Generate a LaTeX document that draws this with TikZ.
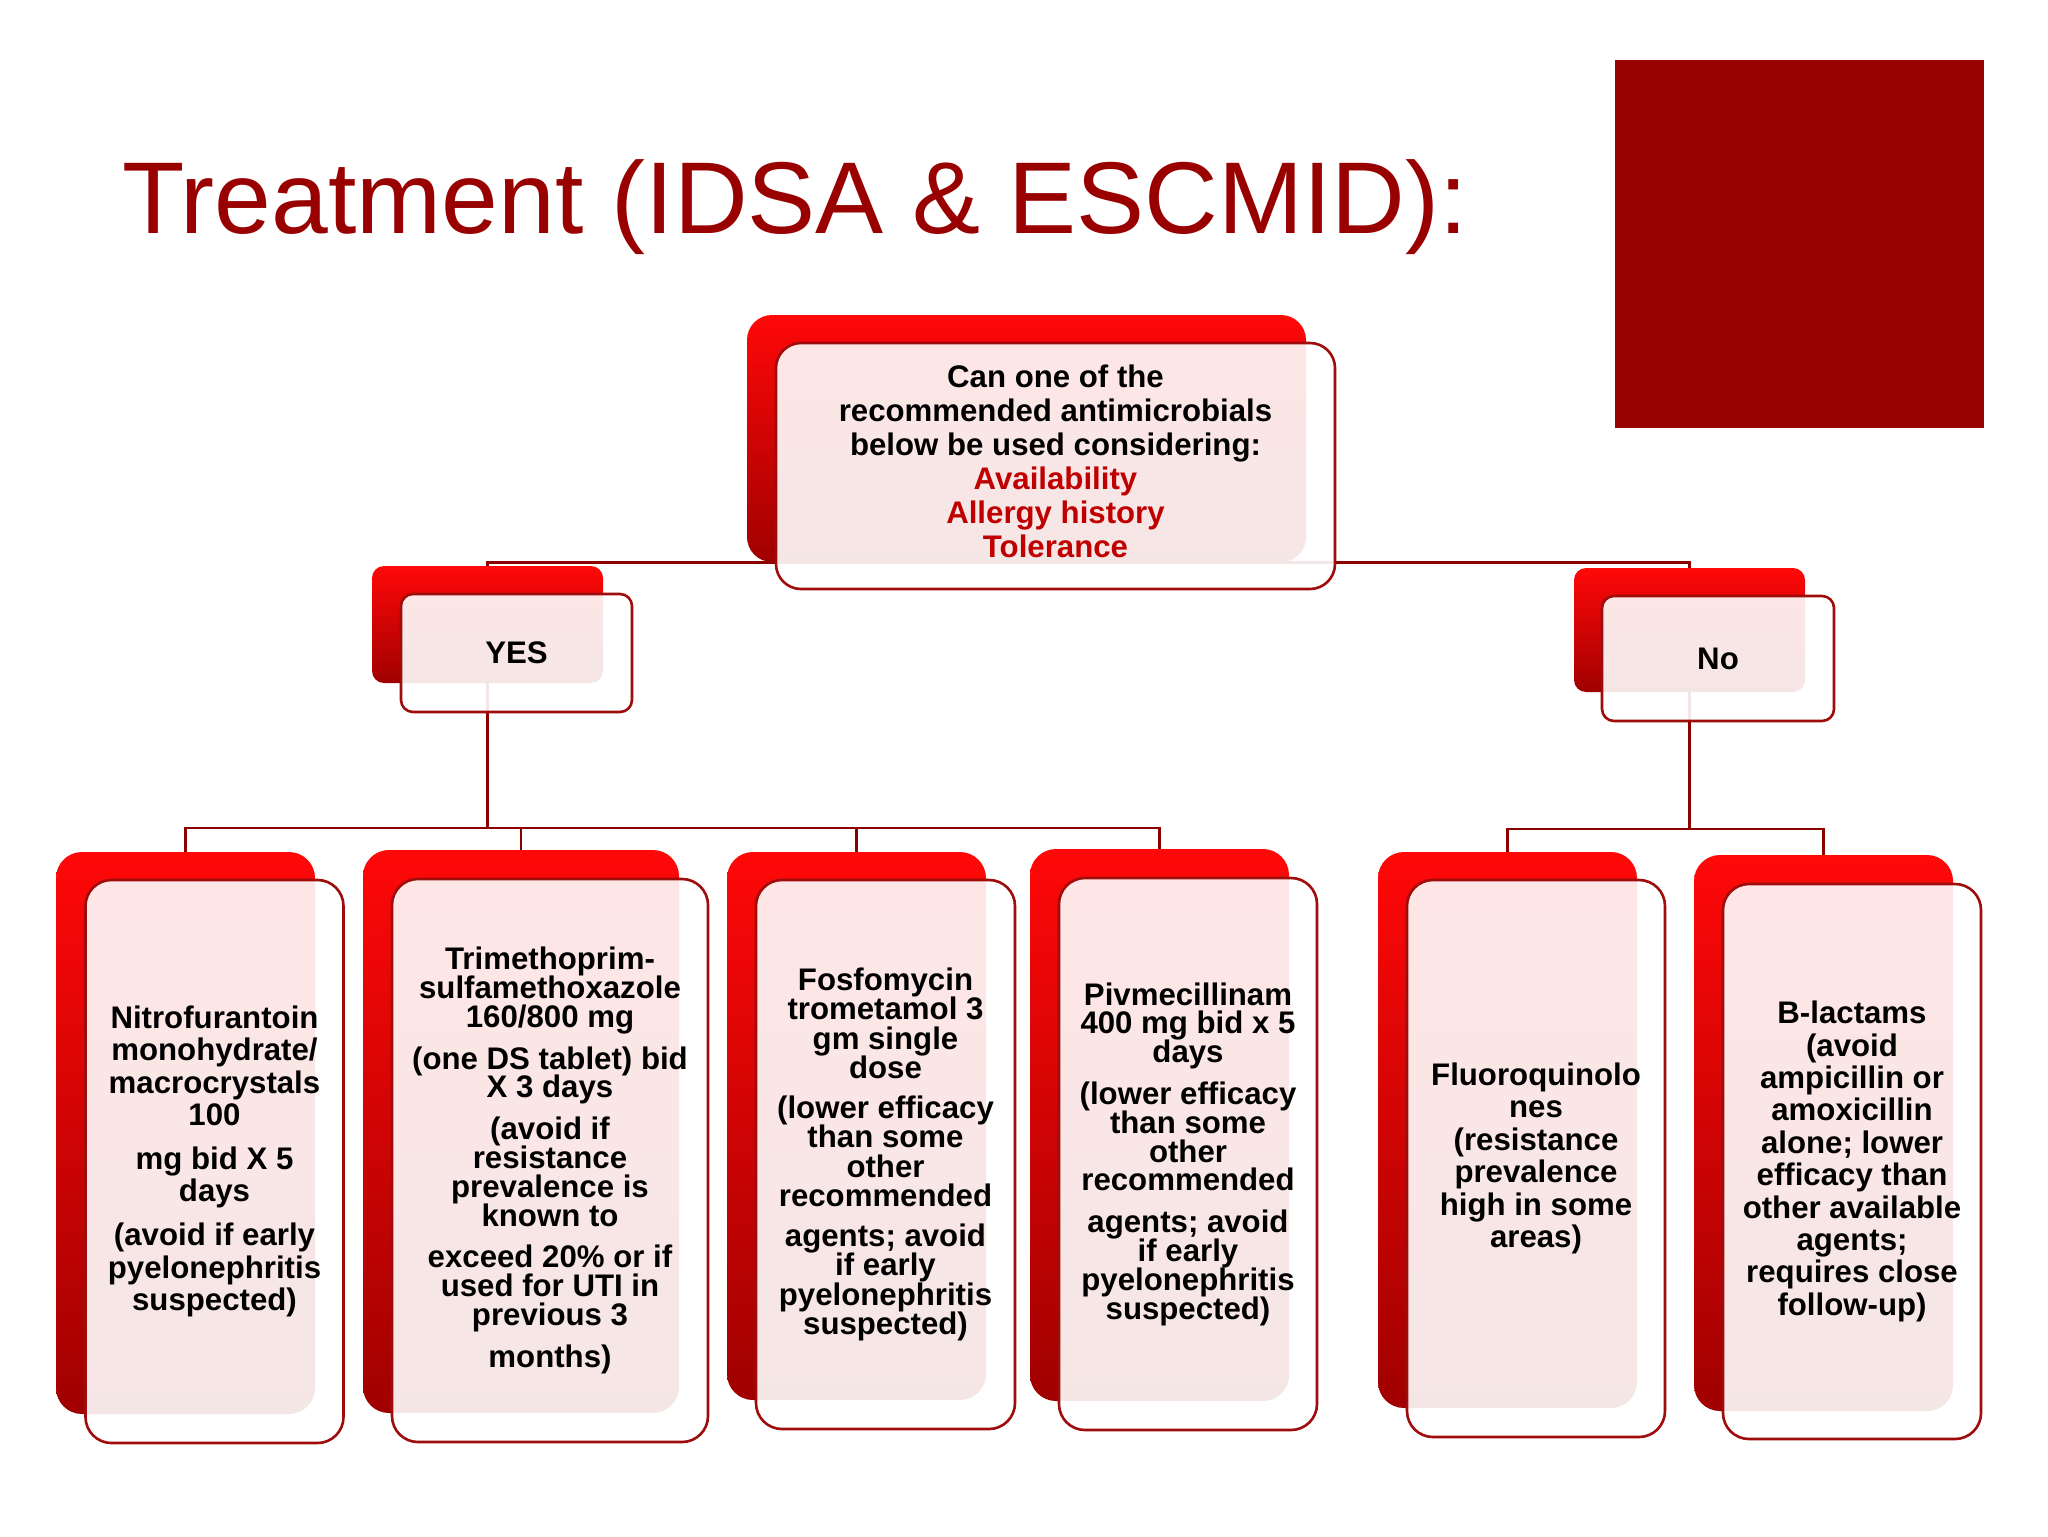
\documentclass[tikz,border=0pt]{standalone}
\usepackage{fontspec}
\setmainfont{Liberation Sans}
\usetikzlibrary{calc}
\definecolor{titlered}{RGB}{153,0,0}
\definecolor{sqred}{RGB}{153,0,0}
\definecolor{boxline}{RGB}{158,12,12}
\definecolor{conline}{RGB}{140,0,0}
\definecolor{hired}{RGB}{192,0,0}
\definecolor{backtop}{RGB}{255,8,8}
\definecolor{backmid}{RGB}{228,0,0}
\definecolor{backbot}{RGB}{160,0,0}
\newcommand\tightlines{\lineskiplimit=-100pt\relax}
\begin{document}
\begin{tikzpicture}[x=0.5pt,y=-0.5pt,
  backbox/.style={rectangle, draw=none, inner sep=0pt,
    top color=backtop, middle color=backmid, bottom color=backbot},
  frontbox/.style={rectangle, draw=boxline, line width=1.3pt, fill=white,
    fill opacity=0.9, text opacity=1, inner sep=0pt, align=center, text=black},
  boxtext/.style={inner sep=0pt, align=center, text=black},
  conn/.style={draw=conline, line width=1.4pt},
  boxfont/.style={font={\bfseries\fontsize{15.6}{#1}\selectfont\tightlines}}
]
\useasboundingbox (0,0) rectangle (2048,1536);
\fill[white] (0,0) rectangle (2048,1536);

% title and red square
\node[anchor=base west, inner sep=0pt, text=titlered,
  font=\fontsize{51}{60}\selectfont] (title) at (122,233) {Treatment (IDSA \& ESCMID):};
\fill[sqred] (1615,60) rectangle (1984,428);

% back shapes
\node[backbox, rounded corners=12.5pt, minimum width=279.5pt, minimum height=123.5pt] (mainb) at (1026.5,438.5) {};
\node[backbox, rounded corners=6pt, minimum width=115.5pt, minimum height=58.5pt] (yesb) at (487.5,624.5) {};
\node[backbox, rounded corners=6pt, minimum width=115.5pt, minimum height=62pt] (nob) at (1689.5,630) {};
\node[backbox, rounded corners=13pt, minimum width=129.5pt, minimum height=281pt] (c1b) at (185.5,1133) {};
\node[backbox, rounded corners=13pt, minimum width=158pt, minimum height=281.5pt] (c2b) at (521,1131.5) {};
\node[backbox, rounded corners=13pt, minimum width=129.5pt, minimum height=274pt] (c3b) at (856.5,1126) {};
\node[backbox, rounded corners=13pt, minimum width=129.5pt, minimum height=276pt] (c4b) at (1159.5,1125) {};
\node[backbox, rounded corners=13pt, minimum width=129.5pt, minimum height=278pt] (c5b) at (1507.5,1130) {};
\node[backbox, rounded corners=13pt, minimum width=129.5pt, minimum height=278pt] (c6b) at (1823.5,1133) {};

% connectors
\coordinate (midL) at (0,828);
\coordinate (midR) at (0,829);
\draw[conn] (mainb.south) -| (yesb.north);
\draw[conn] (mainb.south) -| (nob.north);
\draw[conn] (yesb.south) |- (midL -| c1b.north) -- (c1b.north);
\draw[conn] (yesb.south) |- (midL -| c2b.north) -- (c2b.north);
\draw[conn] (yesb.south) |- (midL -| c3b.north) -- (c3b.north);
\draw[conn] (yesb.south) |- (midL -| c4b.north) -- (c4b.north);
\draw[conn] (nob.south) |- (midR -| c5b.north) -- (c5b.north);
\draw[conn] (nob.south) |- (midR -| c6b.north) -- (c6b.north);

% front boxes
\node[frontbox, rounded corners=12.5pt, minimum width=279.5pt, minimum height=123pt] (mainf) at (1055.5,466) {};
\node[boxtext, boxfont=17] (maintext) at (1055.5,461)
  {Can one of the\\recommended antimicrobials\\below be used considering:\\
   \textcolor{hired}{Availability}\\\textcolor{hired}{Allergy history}\\\textcolor{hired}{Tolerance}};
\node[frontbox, boxfont=17, rounded corners=6pt, minimum width=115.5pt, minimum height=59pt] (yesf) at (516.5,653) {YES};
\node[frontbox, boxfont=17, rounded corners=6pt, minimum width=116pt, minimum height=62.5pt] (nof) at (1718,658.5) {No};

\node[frontbox, boxfont=16.1, rounded corners=13pt, minimum width=129pt, minimum height=281.5pt] (c1f) at (214.5,1161.5)
  {Nitrofurantoin\\monohydrate/\\macrocrystals\\100\\[6pt]mg bid X 5\\days\\[6pt](avoid if early\\pyelonephritis\\suspected)};
\node[frontbox, boxfont=14.4, rounded corners=13pt, minimum width=158pt, minimum height=281.5pt] (c2f) at (550,1160.5)
  {Trimethoprim-\\sulfamethoxazole\\160/800 mg\\[6.5pt](one DS tablet) bid\\X 3 days\\[6.5pt](avoid if\\resistance\\prevalence is\\known to\\[6.5pt]exceed 20\% or if\\used for UTI in\\previous 3\\[6.5pt]months)};
\node[frontbox, boxfont=14.6, rounded corners=13pt, minimum width=129.5pt, minimum height=274.5pt] (c3f) at (885.5,1154.5)
  {Fosfomycin\\trometamol 3\\gm single\\dose\\[5.6pt](lower efficacy\\than some\\other\\recommended\\[5.6pt]agents; avoid\\if early\\pyelonephritis\\suspected)};
\node[frontbox, boxfont=14.4, rounded corners=13pt, minimum width=129pt, minimum height=276pt] (c4f) at (1188,1154)
  {Pivmecillinam\\400 mg bid x 5\\days\\[6.5pt](lower efficacy\\than some\\other\\recommended\\[6.5pt]agents; avoid\\if early\\pyelonephritis\\suspected)};
\node[frontbox, boxfont=16.2, rounded corners=13pt, minimum width=129pt, minimum height=278.5pt] (c5f) at (1536,1158.5)
  {Fluoroquinolo\\nes\\(resistance\\prevalence\\high in some\\areas)};
\node[frontbox, boxfont=16.2, rounded corners=13pt, minimum width=129pt, minimum height=277.5pt] (c6f) at (1852,1161.5)
  {B-lactams\\(avoid\\ampicillin or\\amoxicillin\\alone; lower\\efficacy than\\other available\\agents;\\requires close\\follow-up)};
\end{tikzpicture}
\end{document}
